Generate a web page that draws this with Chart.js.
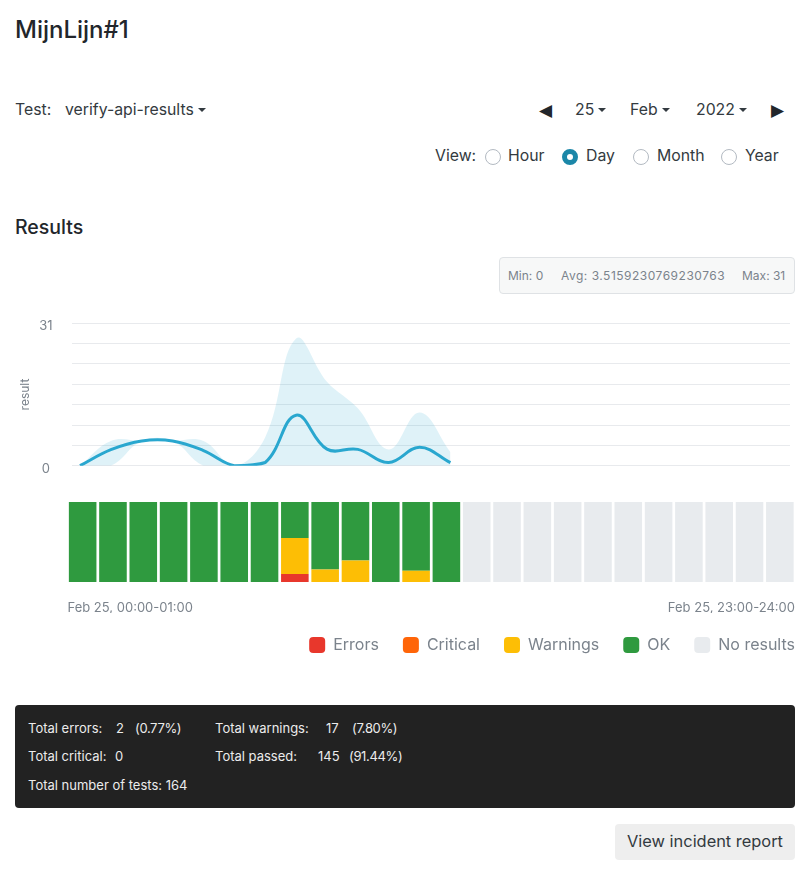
<!DOCTYPE html>
<html>
<head>
<meta charset="utf-8">
<title>MijnLijn#1</title>
<script src="https://cdn.jsdelivr.net/npm/chart.js@4/dist/chart.umd.min.js"></script>
<style>
  html, body { margin: 0; background: #fff; }
  body { position: relative; width: 810px; height: 877px; overflow: hidden; font-family: Inter, "Open Sans", sans-serif; color: #333a40; font-size: 15.8px; }
  .abs { position: absolute; white-space: nowrap; line-height: 20px; }
  .caret::after { content: ''; display: inline-block; margin-left: 4px; vertical-align: 3px; border: 4px solid transparent; border-top-color: #333a40; border-bottom: 0; }
  .radio { position: absolute; top: 149px; width: 14px; height: 14px; border: 1px solid #b3bac2; border-radius: 50%; background: #fff; }
  .radio.on { width: 6px; height: 6px; border: 5px solid #1b87a8; }
  canvas { position: absolute; left: 0; }
  #stats { position: absolute; left: 15px; top: 705px; width: 780px; height: 103px; background: #222; border-radius: 4px; color: #ececec; font-size: 13px; }
  #stats span { position: absolute; white-space: nowrap; line-height: 16px; }
  #stats .pct { letter-spacing: -0.35px; }
  #range { position: absolute; left: 499px; top: 257px; width: 294px; height: 35px; background: #f7f8f8; border: 1px solid #dfe2e5; border-radius: 4px; color: #7b838c; font-size: 12px; }
  #range span { position: absolute; top: 10px; line-height: 16px; white-space: nowrap; }
  #report { position: absolute; left: 615px; top: 824px; width: 180px; height: 36px; line-height: 35px; text-align: center; background: #eeeeee; border-radius: 4px; color: #333a40; font-size: 16.4px; }
</style>
</head>
<body>
<div class="abs" style="left:15px;top:16px;font-size:24px;line-height:28px;font-weight:500;color:#22262b">MijnLijn#1</div>

<div class="abs" style="left:15px;top:100px">Test:</div>
<div class="abs caret" style="left:65px;top:100px">verify-api-results</div>
<div class="abs" style="left:539px;top:100px;font-family:'DejaVu Sans';font-size:17px;color:#22262b">◀</div>
<div class="abs caret" style="left:575px;top:100px">25</div>
<div class="abs caret" style="left:630px;top:100px">Feb</div>
<div class="abs caret" style="left:696px;top:100px">2022</div>
<div class="abs" style="left:771px;top:100px;font-family:'DejaVu Sans';font-size:17px;color:#22262b">▶</div>

<div class="abs" style="left:435px;top:146px">View:</div>
<div class="radio" style="left:485px"></div><div class="abs" style="left:508px;top:146px">Hour</div>
<div class="radio on" style="left:562px"></div><div class="abs" style="left:586px;top:146px">Day</div>
<div class="radio" style="left:633px"></div><div class="abs" style="left:657px;top:146px">Month</div>
<div class="radio" style="left:721px"></div><div class="abs" style="left:745px;top:146px">Year</div>

<div class="abs" style="left:15px;top:216px;font-size:19.5px;line-height:22px;font-weight:500;color:#22262b">Results</div>

<div id="range">
  <span style="left:8px">Min: 0</span>
  <span style="left:61px;letter-spacing:0.5px">Avg: 3.5159230769230763</span>
  <span style="left:242px">Max: 31</span>
</div>

<canvas id="chart-trend" style="top:296px;width:810px;height:197px"></canvas>
<canvas id="chart-status" style="top:490px;width:810px;height:178px"></canvas>

<div id="stats">
  <span style="left:13px;top:15px">Total errors:</span><span style="left:101px;top:15px">2</span><span class="pct" style="left:120px;top:15px">(0.77%)</span>
  <span style="left:200px;top:15px">Total warnings:</span><span style="left:311px;top:15px">17</span><span class="pct" style="left:337px;top:15px">(7.80%)</span>
  <span style="left:13px;top:43px">Total critical:</span><span style="left:100px;top:43px">0</span>
  <span style="left:200px;top:43px">Total passed:</span><span style="left:303px;top:43px">145</span><span class="pct" style="left:334px;top:43px">(91.44%)</span>
  <span style="left:13px;top:72px">Total number of tests: 164</span>
</div>
<div id="report">View incident report</div>

<script>
const TEXT_GREY = '#7b838c';

const hours = ['00', '01', '02', '03', '04', '05', '06', '07', '08', '09', '10', '11',
  '12', '13', '14', '15', '16', '17', '18', '19', '20', '21', '22', '23'];

// trend chart
const avgResult = [0, 3.5, 5.4, 5.4, 3.3, 0, 0.7, 11, 3.6, 3.55, 0.7, 4, 0.65];
const maxResult = [0, 5.4, 5.4, 5.4, 5.4, 0, 6.2, 27.7, 18.3, 12.5, 3.55, 11.6, 3];
const minResult = [0, 0, 5.4, 5.4, 0, 0, 0, 0, 0, 0, 0, 0, 0];
const gridValues = [0, 4.43, 8.86, 13.29, 17.71, 22.14, 26.57, 31];
const labelledTicks = [0, 31];

// status chart, share of each hour in percent
const errorsPct   = [0, 0, 0, 0, 0, 0, 0, 10, 0, 0, 0, 0, 0, 0, 0, 0, 0, 0, 0, 0, 0, 0, 0, 0];
const criticalPct = [0, 0, 0, 0, 0, 0, 0, 0, 0, 0, 0, 0, 0, 0, 0, 0, 0, 0, 0, 0, 0, 0, 0, 0];
const warningsPct = [0, 0, 0, 0, 0, 0, 0, 45, 15.5, 26.8, 0, 14.2, 0, 0, 0, 0, 0, 0, 0, 0, 0, 0, 0, 0];
const okPct       = [100, 100, 100, 100, 100, 100, 100, 45, 84.5, 73.2, 100, 85.8, 100, 0, 0, 0, 0, 0, 0, 0, 0, 0, 0, 0];
const noResultPct = [0, 0, 0, 0, 0, 0, 0, 0, 0, 0, 0, 0, 0, 100, 100, 100, 100, 100, 100, 100, 100, 100, 100, 100];
const edgeLabels = { 0: 'Feb 25, 00:00-01:00', 23: 'Feb 25, 23:00-24:00' };

const FONT = 'Inter, "Open Sans", sans-serif';

// the legend keeps one padding after its last item, push it back to the edge
const legendFlushRight = {
  id: 'legendFlushRight',
  afterLayout(chart) { chart.legend.right += chart.legend.options.labels.padding; },
};

new Chart(document.getElementById('chart-trend'), {
  type: 'line',
  data: {
    labels: hours,
    datasets: [
      { label: 'max', data: maxResult, borderWidth: 0, pointRadius: 0, tension: 0.4, fill: '+1',
        backgroundColor: 'rgba(41,168,207,0.15)' },
      { label: 'min', data: minResult, borderWidth: 0, pointRadius: 0, tension: 0.4, fill: false },
      { label: 'avg', data: avgResult, borderColor: '#2aa7cf', borderWidth: 3, pointRadius: 0, tension: 0.4, fill: false },
    ],
  },
  options: {
    responsive: false,
    animation: false,
    layout: { padding: { left: 18, right: 20 } },
    plugins: { legend: { display: false }, tooltip: { enabled: false } },
    scales: {
      x: { display: false, offset: false },
      y: {
        min: 0,
        max: 31,
        afterBuildTicks: (scale) => { scale.ticks = gridValues.map(v => ({ value: v })); },
        afterFit: (scale) => { scale.width = 62; },
        border: { display: false },
        grid: { color: '#e8eaed', tickLength: 8 },
        title: { display: true, text: 'result', color: TEXT_GREY, font: { family: FONT, size: 12 }, padding: 0 },
        ticks: {
          autoSkip: false,
          color: TEXT_GREY,
          crossAlign: 'center',
          padding: 19.5,
          labelOffset: 3,
          font: { family: FONT, size: 13 },
          callback: (v) => labelledTicks.includes(v) ? v : '',
        },
      },
    },
  },
});

new Chart(document.getElementById('chart-status'), {
  type: 'bar',
  data: {
    labels: hours,
    datasets: [
      { label: 'Errors', data: errorsPct, backgroundColor: '#e8372c' },
      { label: 'Critical', data: criticalPct, backgroundColor: '#ff6508' },
      { label: 'Warnings', data: warningsPct, backgroundColor: '#fdbe05' },
      { label: 'OK', data: okPct, backgroundColor: '#2f9a3f' },
      { label: 'No results', data: noResultPct, backgroundColor: '#e8ebee' },
    ],
  },
  plugins: [legendFlushRight],
  options: {
    responsive: false,
    animation: false,
    layout: { padding: { left: 67.5, right: 15, top: 12, bottom: 5 } },
    datasets: { bar: { barPercentage: 0.91, categoryPercentage: 1 } },
    plugins: {
      tooltip: { enabled: false },
      legend: {
        position: 'bottom',
        align: 'end',
        labels: {
          color: TEXT_GREY,
          font: { family: FONT, size: 16 },
          boxWidth: 16,
          boxHeight: 16,
          useBorderRadius: true,
          borderRadius: 4,
          padding: 24,
        },
      },
    },
    scales: {
      x: { display: false, stacked: true },
      // second axis without offset so the two labels reach the outer bar edges
      xEdge: {
        type: 'category',
        position: 'bottom',
        offset: false,
        afterFit: (scale) => { scale.height = 31; },
        border: { display: false },
        grid: { display: false },
        ticks: {
          autoSkip: false,
          maxRotation: 0,
          align: 'inner',
          padding: 10.5,
          color: TEXT_GREY,
          font: { family: FONT, size: 13 },
          callback: (v, i) => edgeLabels[i] || '',
        },
      },
      y: { display: false, stacked: true, min: 0, max: 100 },
    },
  },
});
</script>
</body>
</html>
